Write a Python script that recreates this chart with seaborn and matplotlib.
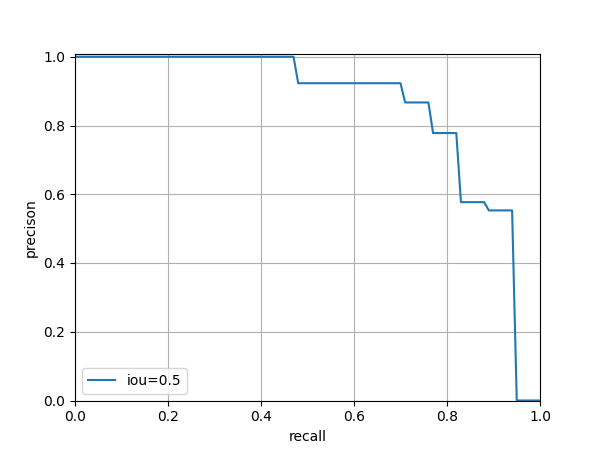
import matplotlib
matplotlib.use("Agg")
import matplotlib.pyplot as plt
import seaborn as sns
import pandas as pd

recall = [0.0, 0.47, 0.48, 0.70, 0.71, 0.76, 0.77, 0.82, 0.83, 0.88, 0.89, 0.94, 0.95, 1.0]
precision = [1.0, 1.0, 0.923, 0.923, 0.867, 0.867, 0.778, 0.778, 0.577, 0.577, 0.553, 0.553, 0.0, 0.0]

df = pd.DataFrame({"recall": recall, "precison": precision})

fig, ax = plt.subplots(figsize=(6, 4.5), dpi=100)
sns.lineplot(data=df, x="recall", y="precison", sort=False, estimator=None,
             color="#1f77b4", label="iou=0.5", ax=ax)
ax.set_xlim(0, 1.0)
ax.set_ylim(0, 1.008)
ax.grid(True)
ax.legend(loc="lower left")
fig.savefig("out.png")
